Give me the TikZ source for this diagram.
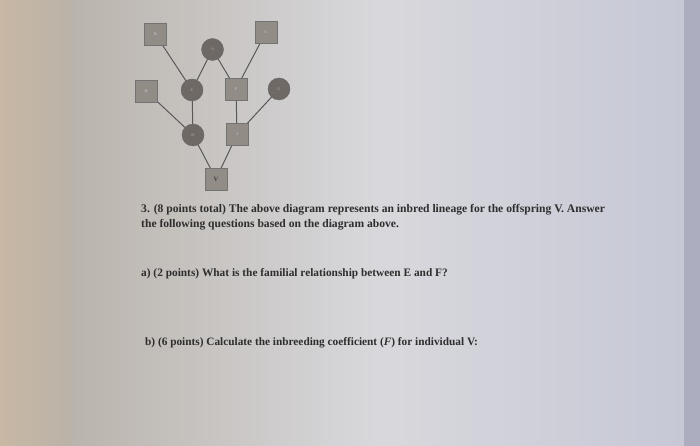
\documentclass[tikz,border=0pt]{standalone}
\usepackage{fontspec}
\setmainfont{Liberation Serif}
\usetikzlibrary{shapes}
\definecolor{stripL}{RGB}{200,184,164}
\definecolor{stripR}{RGB}{186,178,168}
\definecolor{pageL}{RGB}{186,180,172}
\definecolor{pageM}{RGB}{216,216,220}
\definecolor{pageR}{RGB}{198,200,214}
\definecolor{edgeR}{RGB}{172,174,192}
\definecolor{sqfill}{RGB}{146,140,134}
\definecolor{cifill}{RGB}{110,105,101}

\begin{document}
\begin{tikzpicture}[x=1pt,y=-1pt,
    sq/.style={draw=black!55,fill=sqfill,minimum size=22pt,inner sep=0pt,font=\fontsize{4}{4}\selectfont\bfseries,text=black!25},
    ci/.style={circle,draw=black!60,fill=cifill,minimum size=22pt,inner sep=0pt,font=\fontsize{4}{4}\selectfont\bfseries,text=black!40},
    lnk/.style={draw=black!65,line width=1pt},
    txt/.style={anchor=base west,inner sep=0pt,font=\fontsize{11.6}{13}\selectfont\bfseries,text=black!82}]
        \useasboundingbox (0,0) rectangle (700,446);
        \shade[left color=stripL,right color=stripR] (0,0) rectangle (72,446);
        \shade[left color=pageL,right color=pageR,middle color=pageM] (72,0) rectangle (684,446);
        \fill[edgeR] (684,0) rectangle (700,446);
        \coordinate (pB) at (155.5, 34.5);
        \coordinate (pC) at (266, 32);
        \coordinate (pA) at (212.5, 49.5);
        \coordinate (pD) at (146, 91);
        \coordinate (pE) at (192, 90);
        \coordinate (pF) at (236, 89);
        \coordinate (pG) at (279, 89);
        \coordinate (pH) at (193, 135);
        \coordinate (pJ) at (237, 134.5);
        \coordinate (pV) at (216, 179);
        \draw[lnk] (pB) -- (pE);
        \draw[lnk] (pA) -- (pE);
        \draw[lnk] (pA) -- (pF);
        \draw[lnk] (pC) -- (pF);
        \draw[lnk] (pD) -- (pH);
        \draw[lnk] (pE) -- (pH);
        \draw[lnk] (pF) -- (pJ);
        \draw[lnk] (pG) -- (pJ);
        \draw[lnk] (pH) -- (pV);
        \draw[lnk] (pJ) -- (pV);
        \node[sq] (B) at (pB) {B};
        \node[sq] (C) at (pC) {C};
        \node[ci] (A) at (pA) {A};
        \node[sq] (D) at (pD) {D};
        \node[ci] (E) at (pE) {E};
        \node[sq] (F) at (pF) {F};
        \node[ci] (G) at (pG) {G};
        \node[ci] (H) at (pH) {H};
        \node[sq] (J) at (pJ) {J};
        \node[sq,font=\fontsize{6.5}{6.5}\selectfont\bfseries,text=black!75] (V) at (pV) {V};
        \node[txt] (q1) at (141, 212) {3. (8 points total) The above diagram represents an inbred lineage for the offspring V. Answer};
        \node[txt] (q2) at (141, 227) {the following questions based on the diagram above.};
        \node[txt,font=\fontsize{11.35}{13}\selectfont\bfseries] (qa) at (141, 276) {a) (2 points) What is the familial relationship between E and F?};
        \node[txt,font=\fontsize{11.3}{13}\selectfont\bfseries] (qb) at (145, 345) {b) (6 points) Calculate the inbreeding coefficient (\textit{F}) for individual V:};
      \end{tikzpicture}
\end{document}
